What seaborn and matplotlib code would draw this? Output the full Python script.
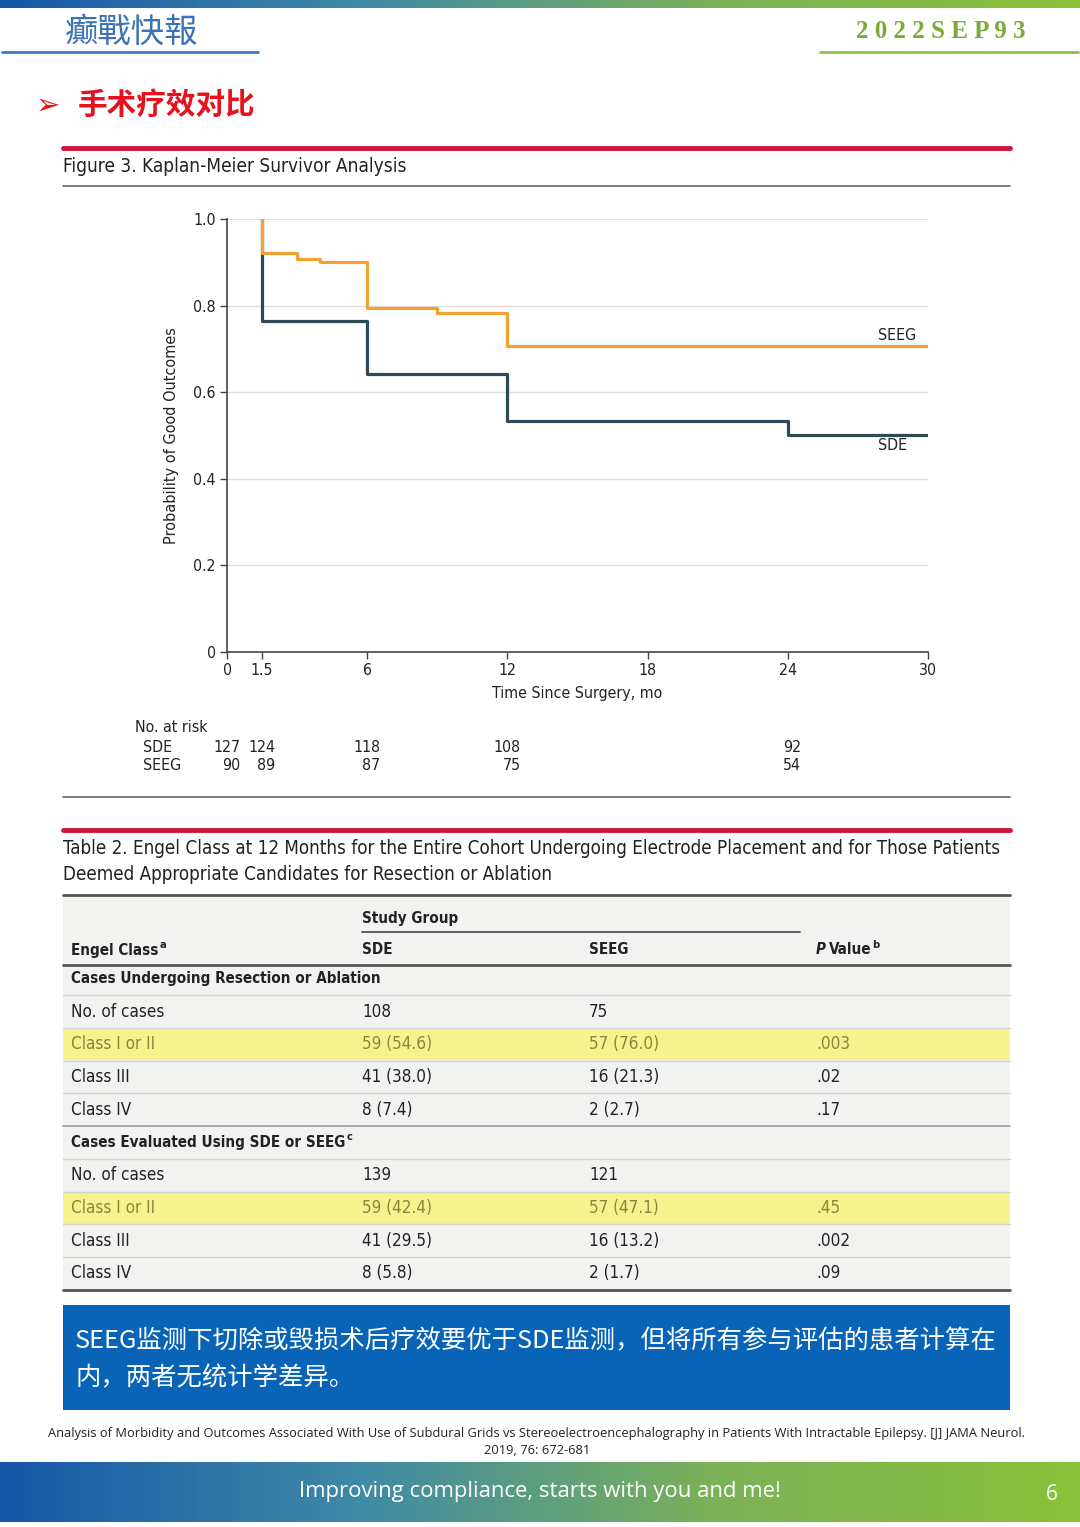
import numpy as np
import pandas as pd
import matplotlib
matplotlib.use('Agg')
import matplotlib.pyplot as plt
import matplotlib.transforms as mtransforms
from matplotlib.colors import LinearSegmentedColormap
from matplotlib.patches import Rectangle
import seaborn as sns

# Kaplan-Meier curves
sde_time = [1.5, 1.5, 6, 12, 24, 30]
sde_prob = [1.0, 0.764, 0.642, 0.534, 0.501, 0.501]
seeg_time = [1.5, 1.5, 3, 4, 6, 9, 12, 30]
seeg_prob = [1.0, 0.921, 0.908, 0.900, 0.795, 0.782, 0.707, 0.707]

x_ticks = [0, 1.5, 6, 12, 18, 24, 30]
x_ticklabels = ['0', '1.5', '6', '12', '18', '24', '30']
y_ticks = [0, 0.2, 0.4, 0.6, 0.8, 1.0]
y_ticklabels = ['0', '0.2', '0.4', '0.6', '0.8', '1.0']

# number at risk
risk_times = [0, 1.5, 6, 12, 24]
risk_sde = [127, 124, 118, 108, 92]
risk_seeg = [90, 89, 87, 75, 54]

# Table 2
row_labels = ['No. of cases', 'Class I or II', 'Class III', 'Class IV']
sec1_title = 'Cases Undergoing Resection or Ablation'
sec1_sde = ['108', '59 (54.6)', '41 (38.0)', '8 (7.4)']
sec1_seeg = ['75', '57 (76.0)', '16 (21.3)', '2 (2.7)']
sec1_p = ['', '.003', '.02', '.17']
sec2_title = 'Cases Evaluated Using SDE or SEEG'
sec2_sde = ['139', '59 (42.4)', '41 (29.5)', '8 (5.8)']
sec2_seeg = ['121', '57 (47.1)', '16 (13.2)', '2 (1.7)']
sec2_p = ['', '.45', '.002', '.09']
highlight_row = 'Class I or II'

SDE_COL = '#2e4a57'
SEEG_COL = '#f0a232'
RED = '#d0153c'
INK = '#222222'
COND = ['Liberation Sans Narrow', 'DejaVu Sans']
CJK = ['Noto Sans CJK SC', 'DejaVu Sans']
NARROW = dict(family=COND, fontstretch='condensed')

sns.set_theme(style='white')
plt.rcParams['font.family'] = COND

fig = plt.figure(figsize=(10.8, 15.27), dpi=100)
fig.patch.set_facecolor('white')
renderer = fig.canvas.get_renderer()

# page axes in pixel units
bg = fig.add_axes([0, 0, 1, 1])
bg.axis('off')

grad = LinearSegmentedColormap.from_list('g', ['#1557a8', '#3f8aa6', '#7cb257', '#8cc13a'])
ramp = np.linspace(0, 1, 256).reshape(1, -1)
bg.imshow(ramp, extent=(0, 1080, 8, 0), aspect='auto', cmap=grad)
bg.imshow(ramp, extent=(0, 1080, 1522, 1462), aspect='auto', cmap=grad)
bg.set_xlim(0, 1080)
bg.set_ylim(1527, 0)


def fit(t, width, vertical=False):
    # scale the font so the text spans the width seen in the reference
    bb = t.get_window_extent(renderer=renderer)
    size = bb.height if vertical else bb.width
    t.set_fontsize(t.get_fontsize() * width / size)
    return t.get_fontsize()


def right_edge(t):
    bb = t.get_window_extent(renderer=renderer)
    return bg.transData.inverted().transform((bb.x1, bb.y1))[0]


# header
bg.text(65, 32, '癫戰快報', family=CJK, fontsize=24, color='#3d73b5', va='center', ha='left')
bg.plot([2, 258], [52, 52], color='#3d7cc4', lw=2)
bg.text(1025, 32, '2 0 2 2 S E P 9 3', family=['Liberation Serif'], fontweight='bold',
        fontsize=18, color='#7aab3a', va='center', ha='right')
bg.plot([820, 1078], [52, 52], color='#8cc04a', lw=2)
bg.text(36, 106, '➢', family=['DejaVu Sans'], fontsize=21, color='#e01818', va='center')
bg.text(78, 105, '手术疗效对比', family=CJK, fontweight='heavy', fontsize=21.3,
        color='#e8101c', va='center')

# figure 3 frame
bg.plot([63, 1010], [148, 148], color=RED, lw=3.5)
t = bg.text(63, 167, 'Figure 3. Kaplan-Meier Survivor Analysis', fontsize=15, color=INK,
            va='center', **NARROW)
fit(t, 344)
bg.plot([63, 1010], [186, 186], color='#666666', lw=1.2)

# KM plot
ax = fig.add_axes([227 / 1080, 1 - 652 / 1527, 701 / 1080, 433 / 1527])
km = pd.DataFrame({
    'time': sde_time + seeg_time,
    'prob': sde_prob + seeg_prob,
    'group': ['SDE'] * len(sde_time) + ['SEEG'] * len(seeg_time),
})
sns.lineplot(data=km, x='time', y='prob', hue='group', hue_order=['SDE', 'SEEG'],
             palette={'SDE': SDE_COL, 'SEEG': SEEG_COL}, estimator=None, sort=False,
             drawstyle='steps-post', linewidth=2.3, legend=False, ax=ax)
ax.set_xlim(0, 30)
ax.set_ylim(0, 1.0)
ax.set_facecolor('none')
for yv in y_ticks[1:]:
    ax.axhline(yv, color='#dedede', lw=1, zorder=0)

xl = ax.set_xlabel('Time Since Surgery, mo', color=INK, labelpad=6, **NARROW)
km_size = fit(xl, 170)
yl = ax.set_ylabel('Probability of Good Outcomes', color=INK, labelpad=10, **NARROW)
fit(yl, 217, vertical=True)

ax.set_xticks(x_ticks)
ax.set_xticklabels(x_ticklabels, **NARROW)
ax.set_yticks(y_ticks)
ax.set_yticklabels(y_ticklabels, **NARROW)
ax.tick_params(axis='both', direction='out', length=5, width=1, color='#444444',
               labelsize=km_size, labelcolor=INK, pad=3, left=True, bottom=True)
for s in ['top', 'right']:
    ax.spines[s].set_visible(False)
for s in ['left', 'bottom']:
    ax.spines[s].set_color('#444444')
    ax.spines[s].set_linewidth(1.2)
ax.text(29.5, 0.73, 'SEEG', fontsize=km_size, color=INK, ha='right', va='center', **NARROW)
ax.text(29.1, 0.476, 'SDE', fontsize=km_size, color=INK, ha='right', va='center', **NARROW)

# number at risk, x in data units of the KM axes, y in page pixels
risk_tr = mtransforms.blended_transform_factory(ax.transData, bg.transData)
bg.text(135, 728, 'No. at risk', fontsize=km_size, color=INK, va='center', **NARROW)
bg.text(143, 747, 'SDE', fontsize=km_size, color=INK, va='center', **NARROW)
bg.text(143, 766, 'SEEG', fontsize=km_size, color=INK, va='center', **NARROW)
for tt, a, b in zip(risk_times, risk_sde, risk_seeg):
    bg.text(tt + 0.57, 747, str(a), transform=risk_tr, fontsize=km_size, color=INK,
            ha='right', va='center', **NARROW)
    bg.text(tt + 0.57, 766, str(b), transform=risk_tr, fontsize=km_size, color=INK,
            ha='right', va='center', **NARROW)
bg.plot([63, 1010], [797, 797], color='#666666', lw=1.2)

# Table 2
bg.plot([63, 1010], [830, 830], color=RED, lw=3.5)
t = bg.text(63, 848, 'Table 2. Engel Class at 12 Months for the Entire Cohort Undergoing Electrode '
            'Placement and for Those Patients', fontsize=15, color=INK, va='center', **NARROW)
title_size = fit(t, 942)
bg.text(63, 875, 'Deemed Appropriate Candidates for Resection or Ablation', fontsize=title_size,
        color=INK, va='center', **NARROW)

bg.add_patch(Rectangle((63, 895), 947, 395, facecolor='#f2f2f0', edgecolor='none', zorder=0))
bg.plot([63, 1010], [895, 895], color='#555555', lw=2)

col_x = [71, 362, 589, 816]

probe = bg.text(0, 0, 'Cases Undergoing Resection or Ablation', fontsize=13,
                fontweight='bold', **NARROW)
hdr_size = fit(probe, 309)
probe.remove()
probe = bg.text(0, 0, 'No. of cases', fontsize=13, **NARROW)
body_size = fit(probe, 93)
probe.remove()

hdr = dict(fontsize=hdr_size, color=INK, fontweight='bold', **NARROW)


def sup_text(x, y, main, sup, **kw):
    t = bg.text(x, y, main, va='center', **kw)
    bg.text(right_edge(t) + 1, y - 5, sup, fontsize=8, color=kw.get('color', INK),
            va='center', fontweight=kw.get('fontweight', 'normal'), **NARROW)
    return t


bg.text(col_x[1], 918, 'Study Group', va='center', **hdr)
bg.plot([362, 800], [932, 932], color='#555555', lw=1.3)
sup_text(col_x[0], 950, 'Engel Class', 'a', **hdr)
bg.text(col_x[1], 950, 'SDE', va='center', **hdr)
bg.text(col_x[2], 950, 'SEEG', va='center', **hdr)
tp = bg.text(col_x[3], 950, 'P', va='center', fontstyle='italic', **hdr)
sup_text(right_edge(tp) + 3, 950, 'Value', 'b', **hdr)
bg.plot([63, 1010], [965, 965], color='#555555', lw=2)

row_h = 32.7
y0 = 979
sections = [
    (sec1_title, '', sec1_sde, sec1_seeg, sec1_p),
    (sec2_title, 'c', sec2_sde, sec2_seeg, sec2_p),
]
k = 0
for title, sup, sde_vals, seeg_vals, p_vals in sections:
    yc = y0 + k * row_h
    if sup:
        sup_text(col_x[0], yc, title, sup, **hdr)
    else:
        bg.text(col_x[0], yc, title, va='center', **hdr)
    if k > 0:
        bg.plot([63, 1010], [yc - row_h / 2, yc - row_h / 2], color='#9a9a9a', lw=1.2)
    k += 1
    for lab, a, b, p in zip(row_labels, sde_vals, seeg_vals, p_vals):
        yc = y0 + k * row_h
        top = yc - row_h / 2
        bg.plot([63, 1010], [top, top], color='#d2d2d2', lw=1)
        col = INK
        if lab == highlight_row:
            bg.add_patch(Rectangle((63, top + 0.5), 947, row_h - 1, facecolor='#f6f28e',
                                   edgecolor='none', zorder=0.5))
            col = '#8a8638'
        for xx, val in zip(col_x, [lab, a, b, p]):
            bg.text(xx, yc, val, fontsize=body_size, color=col, va='center', **NARROW)
        k += 1
bg.plot([63, 1010], [1290, 1290], color='#555555', lw=2)

# conclusion box
bg.add_patch(Rectangle((63, 1305), 947, 105, facecolor='#0964b8', edgecolor='none'))
t = bg.text(75, 1341, 'SEEG监测下切除或毁损术后疗效要优于SDE监测，但将所有参与评估的患者计算在',
            family=CJK, fontsize=18.5, color='white', va='center')
box_size = fit(t, 923)
bg.text(75, 1378, '内，两者无统计学差异。', family=CJK, fontsize=box_size, color='white',
        va='center')

# citation
t = bg.text(537, 1433, 'Analysis of Morbidity and Outcomes Associated With Use of Subdural Grids vs '
            'Stereoelectroencephalography in Patients With Intractable Epilepsy. [J] JAMA Neurol.',
            family=['Open Sans'], fontsize=8.5, color=INK, ha='center', va='center')
cite_size = fit(t, 968)
bg.text(537, 1450, '2019, 76: 672-681', family=['Open Sans'], fontsize=cite_size, color=INK,
        ha='center', va='center')

# footer
t = bg.text(540, 1492, 'Improving compliance, starts with you and me!', family=['Open Sans'],
            fontsize=15.5, color='white', ha='center', va='center')
fit(t, 484)
bg.text(1052, 1495, '6', family=['Open Sans'], fontsize=15, color='white', ha='center',
        va='center')

fig.savefig('out.png', dpi=100, facecolor='white')
